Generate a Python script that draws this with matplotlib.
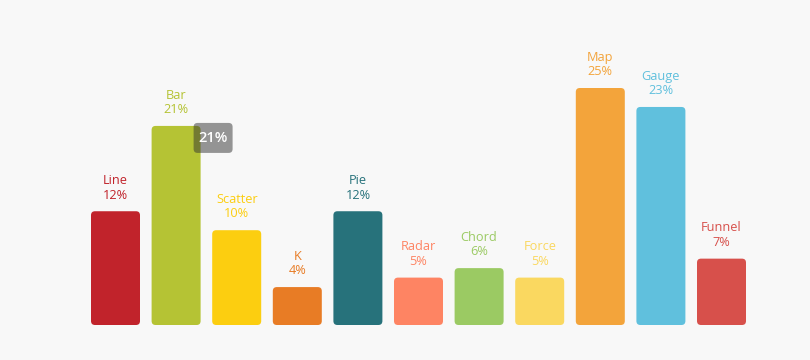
import matplotlib
matplotlib.use('Agg')
import matplotlib.pyplot as plt
from matplotlib.patches import FancyBboxPatch

names = ['Line', 'Bar', 'Scatter', 'K', 'Pie', 'Radar', 'Chord', 'Force', 'Map', 'Gauge', 'Funnel']
values = [12, 21, 10, 4, 12, 5, 6, 5, 25, 23, 7]
colors = ['#C1232B', '#B5C334', '#FCCE10', '#E87C25', '#27727B', '#FE8463',
          '#9BCA63', '#FAD860', '#F3A43B', '#60C0DD', '#D7504B']
tip_index = 1  # tooltip shown on "Bar"

bg = '#f8f8f8'
fig = plt.figure(figsize=(8.1, 3.6), dpi=100, facecolor=bg)
ax = fig.add_axes([85.2 / 810, 35 / 360, 666.6 / 810, 237 / 360])
ax.set_facecolor(bg)
ax.set_xlim(-0.5, len(names) - 0.5)
ax.set_ylim(0, 25)
ax.axis('off')

# pixels per data unit, for round corners
px_x = 666.6 / len(names)
px_y = 237 / 25
width = 49 / px_x
r = 4 / px_x
asp = px_x / px_y

for i, (n, v, c) in enumerate(zip(names, values, colors)):
    p = FancyBboxPatch((i - width / 2, 0), width, v,
                       boxstyle='round,pad=0,rounding_size=%f' % r,
                       mutation_aspect=asp, fc=c, ec='none', clip_on=False)
    ax.add_patch(p)
    ax.annotate('%s\n%d%%' % (n, v), (i, v), xytext=(0, 7),
                textcoords='offset points', ha='center', va='bottom',
                color=c, fontsize=9.2, family='Open Sans', linespacing=1.15)

# tooltip box near the top right corner of the hovered bar
bx = tip_index + width / 2 - 7 / px_x
by = values[tip_index] - 27 / px_y
bw = 39 / px_x
bh = 30 / px_y
ax.add_patch(FancyBboxPatch((bx, by), bw, bh,
                            boxstyle='round,pad=0,rounding_size=%f' % r,
                            mutation_aspect=asp, fc='#323232', alpha=0.5,
                            ec='none', clip_on=False))
ax.text(bx + bw / 2, by + bh / 2, '%d%%' % values[tip_index], ha='center',
        va='center', color='white', fontsize=10.5, family='Open Sans',
        fontweight='semibold')

fig.savefig('out.png', dpi=100, facecolor=bg)
